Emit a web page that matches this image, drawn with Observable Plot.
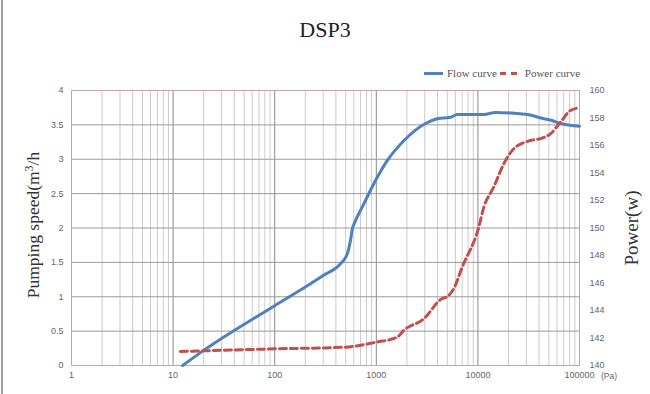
<!DOCTYPE html>
<html><head><meta charset="utf-8">
<script src="https://cdn.jsdelivr.net/npm/d3@7"></script>
<script src="https://cdn.jsdelivr.net/npm/@observablehq/plot@0.6"></script>
<style>
html,body{margin:0;padding:0;background:#fff;}
#wrap{position:relative;width:650px;height:394px;overflow:hidden;}
#edge{position:absolute;left:1px;top:0;width:2px;height:394px;background:#a0a0a0;}
#title{position:absolute;left:0;width:650px;top:17px;text-align:center;font-family:"Liberation Serif","DejaVu Serif",serif;font-size:22px;color:#222;}
#legend{position:absolute;left:424px;top:67px;font-family:"Liberation Serif",serif;font-size:11px;color:#555;display:flex;align-items:center;}
#legend .sw{display:inline-block;width:19px;height:0;border-top:3.5px solid #4f81bd;margin-right:4px;}
#legend .sw2{display:inline-block;width:17px;height:0;border-top:3.5px dashed #c0504d;margin:0 8px 0 3px;}
#ylab{position:absolute;left:33px;top:225px;transform:translate(-50%,-50%) rotate(-90deg);white-space:nowrap;font-family:"Liberation Serif",serif;font-size:17.5px;color:#333;}
#y2lab{position:absolute;left:632px;top:228px;transform:translate(-50%,-50%) rotate(-90deg);white-space:nowrap;font-family:"Liberation Serif",serif;font-size:19px;color:#333;}
#pa{position:absolute;left:601px;top:371px;font-family:"Liberation Sans",sans-serif;font-size:8.5px;color:#666;}
#plot{position:absolute;left:0;top:0;}
</style></head><body>
<div id="wrap">
<div id="plot"></div>
<div id="edge"></div>
<div id="title">DSP3</div>
<div id="legend"><span class="sw"></span>Flow curve<span class="sw2"></span>Power curve</div>
<div id="ylab">Pumping speed(m<sup style="font-size:12px">3</sup>/h</div>
<div id="y2lab">Power(w)</div>
<div id="pa">(Pa)</div>
</div>
<script>
// Flow curve: pressure (Pa) vs pumping speed (m3/h)
const flowP = [12.4, 20, 100, 225, 300, 444, 517, 557, 583, 601, 754, 982, 1280, 1866, 3050, 3980, 5370, 6250, 11430, 14900, 30500, 44600, 51800, 65000, 100000];
const flowS = [0, 0.22, 0.87, 1.19, 1.31, 1.48, 1.62, 1.82, 2.0, 2.05, 2.35, 2.69, 2.98, 3.27, 3.52, 3.59, 3.61, 3.65, 3.65, 3.68, 3.65, 3.59, 3.57, 3.52, 3.48];
// Power curve: pressure (Pa) vs power (W)
const powP = [11.8, 100, 479, 1000, 1607, 1863, 2940, 4300, 5170, 5800, 7000, 10200, 11430, 14300, 17980, 22560, 32960, 41300, 51800, 65000, 81500, 100000];
const powW = [141.02, 141.21, 141.33, 141.7, 142.06, 142.55, 143.4, 144.8, 145.1, 145.6, 147.15, 150.06, 151.5, 152.97, 154.67, 155.76, 156.36, 156.5, 156.85, 157.7, 158.55, 158.74];
const xTicks = [1, 10, 100, 1000, 10000, 100000];
const yTicks = [0, 0.5, 1, 1.5, 2, 2.5, 3, 3.5, 4];
const y2Ticks = [140, 142, 144, 146, 148, 150, 152, 154, 156, 158, 160];

const flow = flowP.map((p, i) => ({p, v: flowS[i]}));
const power = powP.map((p, i) => ({p, w: powW[i]}));
const minor = [];
for (let e = 0; e < 5; e++) for (let k = 2; k <= 9; k++) minor.push(k * Math.pow(10, e));
const toLeft = w => (w - 140) / 5;

const chart = Plot.plot({
  width: 650, height: 394,
  marginTop: 90, marginBottom: 29, marginLeft: 71, marginRight: 71,
  style: {fontFamily: "Liberation Sans, sans-serif", fontSize: "9px", color: "#666", background: "transparent"},
  x: {type: "log", domain: [1, 100000]},
  y: {domain: [0, 4]},
  marks: [
    Plot.ruleX(minor, {stroke: "#d0c8c8", strokeWidth: 1}),
    Plot.ruleX(xTicks, {stroke: "#8a8a8a", strokeWidth: 1}),
    Plot.ruleY(yTicks, {stroke: "#9a9a9a", strokeWidth: 1}),
    Plot.frame({stroke: "#c9a3a3", strokeWidth: 1}),
    Plot.axisX({ticks: xTicks, tickFormat: d => String(d), tickSize: 0, tickPadding: 6, label: null}),
    Plot.axisY({ticks: yTicks, tickFormat: d => String(d), tickSize: 0, tickPadding: 8, label: null}),
    Plot.axisY({anchor: "right", ticks: y2Ticks.map(toLeft), tickFormat: d => String(Math.round(140 + d * 5)), tickSize: 0, tickPadding: 10, label: null}),
    Plot.line(flow, {x: "p", y: "v", stroke: "#4f81bd", strokeWidth: 3, curve: "monotone-x"}),
    Plot.line(power, {x: "p", y: d => toLeft(d.w), stroke: "#c0504d", strokeWidth: 3, strokeDasharray: "7,4", curve: "monotone-x"})
  ]
});
document.getElementById("plot").appendChild(chart);
</script>
</body></html>
